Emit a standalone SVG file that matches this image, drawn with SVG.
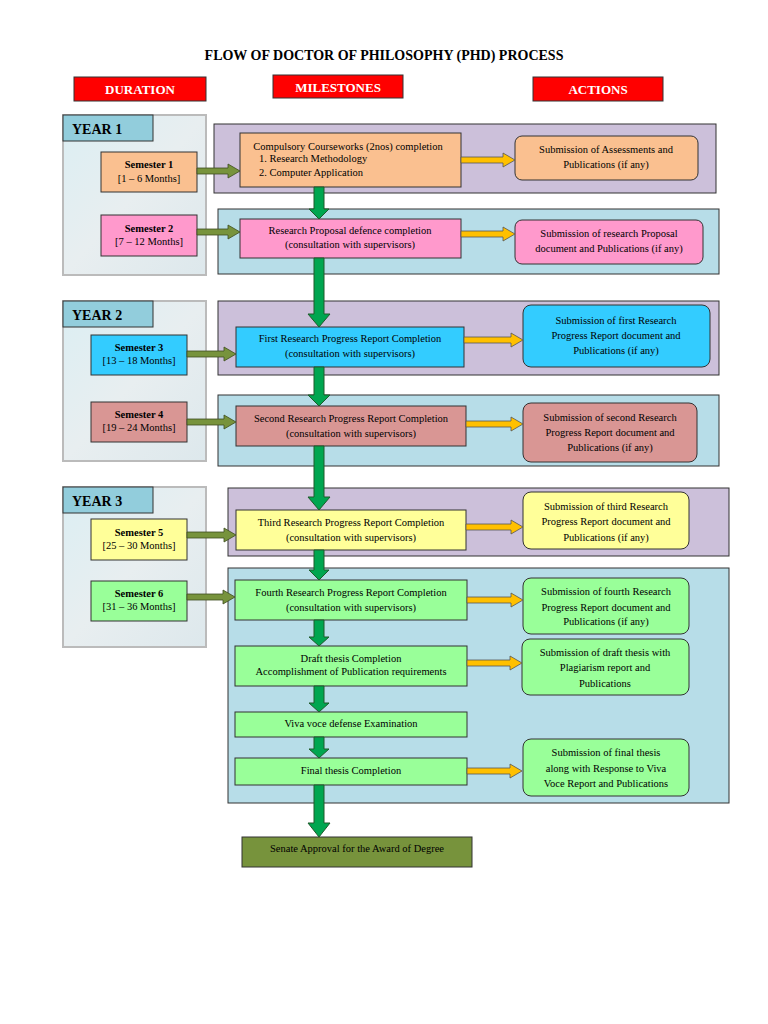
<svg xmlns="http://www.w3.org/2000/svg" width="768" height="1024" viewBox="0 0 768 1024">
<defs>
<linearGradient id="yp" x1="0" y1="0" x2="1" y2="1"><stop offset="0" stop-color="#dbeef3"/><stop offset="0.5" stop-color="#e8eef0"/><stop offset="1" stop-color="#dde8ec"/></linearGradient>
<style>
text{font-family:"Liberation Serif",serif;font-size:10.5px;fill:#000;text-anchor:middle}
.b{font-weight:bold}
.hd{font-weight:bold;font-size:13px;fill:#fff}
.yr{font-weight:bold;font-size:14px;text-anchor:start}
.box{stroke:#333;stroke-width:1}
.pan{fill:url(#yp);stroke:#bbb;stroke-width:2}
.pur{fill:#ccc0da;stroke:#333;stroke-width:1}
.blu{fill:#b7dde8;stroke:#333;stroke-width:1}
.g{fill:#00a650;stroke:#1f5a2a;stroke-width:1}
.y{fill:#ffc000;stroke:#555;stroke-width:0.8}
.o{fill:#77933c;stroke:#3d4d1e;stroke-width:0.8}
</style>
</defs>
<rect width="768" height="1024" fill="#fff"/>
<text x="384" y="60" class="b" style="font-size:14px">FLOW OF DOCTOR OF PHILOSOPHY (PHD) PROCESS</text>
<g id="h-duration"><rect x="74" y="77" width="132" height="24" fill="#f00" class="box"/><text x="140" y="94" class="hd">DURATION</text></g>
<g id="h-milestones"><rect x="273" y="75" width="130" height="23" fill="#f00" class="box"/><text x="338" y="92" class="hd">MILESTONES</text></g>
<g id="h-actions"><rect x="533" y="77" width="130" height="24" fill="#f00" class="box"/><text x="598" y="94" class="hd">ACTIONS</text></g>

<g id="backgrounds">
<rect x="214" y="124" width="502" height="69" class="pur"/>
<rect x="218" y="209" width="501" height="65" class="blu"/>
<rect x="218" y="301" width="501" height="74" class="pur"/>
<rect x="218" y="395" width="501" height="71" class="blu"/>
<rect x="228" y="488" width="501" height="68" class="pur"/>
<rect x="228" y="568" width="501" height="235" class="blu"/>
</g>

<g id="year1"><rect x="63" y="115" width="143" height="160" class="pan"/><rect x="63" y="115" width="90" height="26" fill="#92cddc" class="box"/><text x="72" y="134" class="yr">YEAR 1</text></g>
<g id="year2"><rect x="63" y="301" width="143" height="160" class="pan"/><rect x="63" y="301" width="90" height="26" fill="#92cddc" class="box"/><text x="72" y="320" class="yr">YEAR 2</text></g>
<g id="year3"><rect x="63" y="487" width="143" height="160" class="pan"/><rect x="63" y="487" width="90" height="26" fill="#92cddc" class="box"/><text x="72" y="506" class="yr">YEAR 3</text></g>

<g id="sem1"><rect x="101" y="152" width="96" height="40" fill="#fac090" class="box"/><text x="149" y="168" class="b">Semester 1</text><text x="149" y="182">[1 – 6 Months]</text></g>
<g id="sem2"><rect x="101" y="215" width="96" height="41" fill="#ff99cc" class="box"/><text x="149" y="232" class="b">Semester 2</text><text x="149" y="245">[7 – 12 Months]</text></g>
<g id="sem3"><rect x="91" y="335" width="96" height="40" fill="#33ccff" class="box"/><text x="139" y="351" class="b">Semester 3</text><text x="139" y="364">[13 – 18 Months]</text></g>
<g id="sem4"><rect x="91" y="402" width="96" height="40" fill="#d99694" class="box"/><text x="139" y="418" class="b">Semester 4</text><text x="139" y="431">[19 – 24 Months]</text></g>
<g id="sem5"><rect x="91" y="519" width="96" height="41" fill="#ffff99" class="box"/><text x="139" y="536" class="b">Semester 5</text><text x="139" y="549">[25 – 30 Months]</text></g>
<g id="sem6"><rect x="91" y="581" width="96" height="40" fill="#99ff99" class="box"/><text x="139" y="597" class="b">Semester 6</text><text x="139" y="610">[31 – 36 Months]</text></g>

<g id="m1"><rect x="240" y="133" width="221" height="54" fill="#fac090" class="box"/><text x="348" y="150">Compulsory Courseworks (2nos) completion</text><text x="259" y="162" style="text-anchor:start">1. Research Methodology</text><text x="259" y="176" style="text-anchor:start">2. Computer Application</text></g>
<g id="m2"><rect x="240" y="219" width="221" height="39" fill="#ff99cc" class="box"/><text x="350" y="234">Research Proposal defence completion</text><text x="350" y="248">(consultation with supervisors)</text></g>
<g id="m3"><rect x="236" y="327" width="228" height="40" fill="#33ccff" class="box"/><text x="350" y="342">First Research Progress Report Completion</text><text x="350" y="357">(consultation with supervisors)</text></g>
<g id="m4"><rect x="236" y="406" width="230" height="40" fill="#d99694" class="box"/><text x="351" y="422">Second Research Progress Report Completion</text><text x="351" y="437">(consultation with supervisors)</text></g>
<g id="m5"><rect x="236" y="510" width="230" height="40" fill="#ffff99" class="box"/><text x="351" y="526">Third Research Progress Report Completion</text><text x="351" y="541">(consultation with supervisors)</text></g>
<g id="m6"><rect x="235" y="580" width="232" height="40" fill="#99ff99" class="box"/><text x="351" y="596">Fourth Research Progress Report Completion</text><text x="351" y="611">(consultation with supervisors)</text></g>
<g id="m7"><rect x="235" y="646" width="232" height="40" fill="#99ff99" class="box"/><text x="351" y="662">Draft thesis Completion</text><text x="351" y="675">Accomplishment of Publication requirements</text></g>
<g id="m8"><rect x="235" y="712" width="232" height="25" fill="#99ff99" class="box"/><text x="351" y="727">Viva voce defense Examination</text></g>
<g id="m9"><rect x="235" y="758" width="232" height="27" fill="#99ff99" class="box"/><text x="351" y="774">Final thesis Completion</text></g>
<g id="senate"><rect x="242" y="837" width="230" height="30" fill="#77933c" class="box"/><text x="357" y="852">Senate Approval for the Award of Degree</text></g>

<g id="a1"><rect x="515" y="136" width="183" height="44" rx="7" fill="#fac090" class="box"/><text x="606" y="153">Submission of Assessments and</text><text x="606" y="168">Publications (if any)</text></g>
<g id="a2"><rect x="515" y="220" width="188" height="44" rx="7" fill="#ff99cc" class="box"/><text x="609" y="237">Submission of research Proposal</text><text x="609" y="252">document and Publications (if any)</text></g>
<g id="a3"><rect x="523" y="305" width="187" height="62" rx="8" fill="#33ccff" class="box"/><text x="616" y="324">Submission of first Research</text><text x="616" y="339">Progress Report document and</text><text x="616" y="354">Publications (if any)</text></g>
<g id="a4"><rect x="523" y="403" width="174" height="59" rx="8" fill="#d99694" class="box"/><text x="610" y="421">Submission of second Research</text><text x="610" y="436">Progress Report document and</text><text x="610" y="451">Publications (if any)</text></g>
<g id="a5"><rect x="523" y="492" width="166" height="57" rx="8" fill="#ffff99" class="box"/><text x="606" y="510">Submission of third Research</text><text x="606" y="525">Progress Report document and</text><text x="606" y="541">Publications (if any)</text></g>
<g id="a6"><rect x="523" y="578" width="166" height="56" rx="8" fill="#99ff99" class="box"/><text x="606" y="595">Submission of fourth Research</text><text x="606" y="611">Progress Report document and</text><text x="606" y="625">Publications (if any)</text></g>
<g id="a7"><rect x="522" y="639" width="167" height="56" rx="8" fill="#99ff99" class="box"/><text x="605" y="656">Submission of draft thesis with</text><text x="605" y="671">Plagiarism report and</text><text x="605" y="687">Publications</text></g>
<g id="a8"><rect x="523" y="739" width="166" height="57" rx="8" fill="#99ff99" class="box"/><text x="606" y="756">Submission of final thesis</text><text x="606" y="772">along with Response to Viva</text><text x="606" y="787">Voce Report and Publications</text></g>

<g id="connectors">
<polygon class="g" points="314,187 324,187 324,209 329,209 319,219 309,209 314,209"/>
<polygon class="g" points="314,258 324,258 324,314 330,314 319,327 308,314 314,314"/>
<polygon class="g" points="314,367 324,367 324,395 330,395 319,406 308,395 314,395"/>
<polygon class="g" points="314,446 324,446 324,497 330,497 319,510 308,497 314,497"/>
<polygon class="g" points="314,550 324,550 324,570 329,570 319,580 309,570 314,570"/>
<polygon class="g" points="314,620 324,620 324,637 329,637 319,646 309,637 314,637"/>
<polygon class="g" points="314,686 324,686 324,703 329,703 319,712 309,703 314,703"/>
<polygon class="g" points="314,737 324,737 324,749 329,749 319,758 309,749 314,749"/>
<polygon class="g" points="314,785 324,785 324,823 330,823 319,837 308,823 314,823"/>

<polygon class="y" points="461,157 503,157 503,153 515,160 503,167 503,163 461,163"/>
<polygon class="y" points="461,231 503,231 503,227 515,234 503,241 503,237 461,237"/>
<polygon class="y" points="464,337 511,337 511,333 523,340 511,347 511,343 464,343"/>
<polygon class="y" points="466,421 511,421 511,417 523,424 511,431 511,427 466,427"/>
<polygon class="y" points="466,524 511,524 511,520 523,527 511,534 511,530 466,530"/>
<polygon class="y" points="467,597 511,597 511,593 523,600 511,607 511,603 467,603"/>
<polygon class="y" points="467,660 510,660 510,656 522,663 510,670 510,666 467,666"/>
<polygon class="y" points="467,768 510,768 510,764 522,771 510,778 510,774 467,774"/>

<polygon class="o" points="197,168 228,168 228,164 240,171 228,178 228,174 197,174"/>
<polygon class="o" points="197,229 228,229 228,225 240,232 228,239 228,235 197,235"/>
<polygon class="o" points="187,351 224,351 224,347 236,354 224,361 224,357 187,357"/>
<polygon class="o" points="187,419 224,419 224,415 236,422 224,429 224,425 187,425"/>
<polygon class="o" points="187,532 224,532 224,528 236,535 224,542 224,538 187,538"/>
<polygon class="o" points="187,594 223,594 223,590 235,597 223,604 223,600 187,600"/>
</g>
</svg>
